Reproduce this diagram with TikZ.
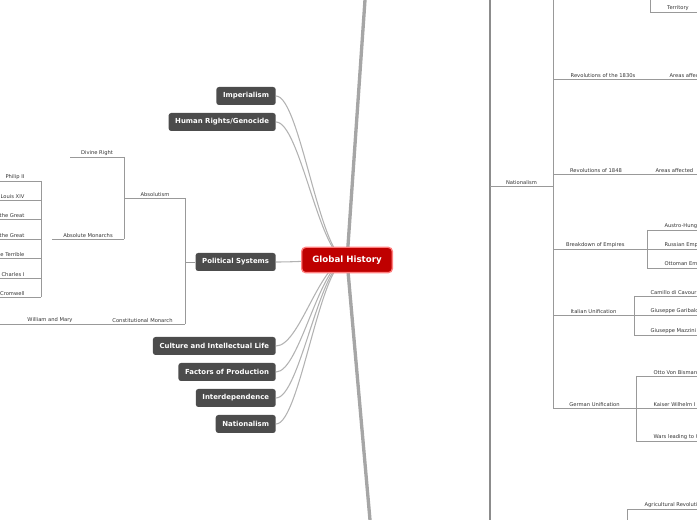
\documentclass[tikz,border=0pt]{standalone}
\usepackage{fontspec}
\setmainfont{DejaVu Sans}
\begin{document}
\begin{tikzpicture}[x=0.75pt,y=-0.75pt,
  topic/.style={fill=black!70,rounded corners=2pt,text=white,font=\fontsize{5.2}{6}\selectfont\bfseries,minimum height=13.5pt,inner xsep=5pt},
  root/.style={fill=red!75!black,rounded corners=3pt,text=white,font=\fontsize{6.5}{8}\selectfont\bfseries,minimum height=19pt,minimum width=68pt,draw=red!50,line width=1pt},
  lbl/.style={font=\fontsize{3.9}{4.5}\selectfont,text=black!80,inner sep=1pt},
  br/.style={draw=black!40,line width=0.5pt},
  link/.style={draw=black!30,line width=0.8pt}]
\useasboundingbox (0,0) rectangle (697,520);
\clip (0,0) rectangle (697,520);
% thick trunks
\coordinate (top) at (365,0); \coordinate (bot) at (370,520);
\coordinate (c) at (347,260);
\draw[black!35,line width=2.5pt] (c) -- (top);
\draw[black!35,line width=2.5pt] (c) -- (bot);
\draw[black!45,line width=1.5pt] (490,0) -- (490,520);
% left topics
\node[topic,anchor=east] (imp) at (276,96) {Imperialism};
\node[topic,anchor=east] (hr) at (276,122) {Human Rights/Genocide};
\node[topic,anchor=east] (ps) at (276,262) {Political Systems};
\node[topic,anchor=east] (cil) at (276,346) {Culture and Intellectual Life};
\node[topic,anchor=east] (fp) at (276,372) {Factors of Production};
\node[topic,anchor=east] (id) at (276,398) {Interdependence};
\node[topic,anchor=east] (nat) at (276,424) {Nationalism};
\foreach \n/\y in {imp/96,hr/122,ps/262,cil/346,fp/372,id/398,nat/424}{
  \draw[link] (c) .. controls (320,260) and (300,\y) .. (\n.east);}
\node[root] (gh) at (347,260) {Global History};
% political systems tree
\draw[br] (ps.west) -- (185,262);
\draw[br] (185,198) -- (185,324);
\draw[br] (185,198) -- (125,198) node[lbl,midway,above] (abs) {Absolutism};
\draw[br] (185,324) -- (100,324) node[lbl,midway,above] (cm) {Constitutional Monarch};
\draw[br] (100,324) -- (0,324) node[lbl,pos=0.5,above] (wm) {William and Mary};
\draw[br] (124,157) -- (124,239);
\draw[br] (124,157) -- (70,157) node[lbl,midway,above] (dr) {Divine Right};
\draw[br] (124,239) -- (52,239) node[lbl,midway,above] (am) {Absolute Monarchs};
\draw[br] (41,181) -- (41,297);
\foreach \t/\y in {Philip II/181,Louis XIV/200,Peter the Great/219,Catherine the Great/239,Ivan the Terrible/258,Charles I/278,Oliver Cromwell/297}{
  \draw[br] (41,\y) -- (0,\y);
  \node[lbl,anchor=south east] at (26,\y) {\t};}
% nationalism tree (right)
\draw[br] (490,186) -- (553,186) node[lbl,midway,above] (natr) {Nationalism};
\draw[br] (553,0) -- (553,408);
\draw[br] (553,79) -- (697,79);
\node[lbl,anchor=south] (r30) at (603,79) {Revolutions of the 1830s};
\node[lbl,anchor=south west] (a30) at (668,79) {Areas affected};
\draw[br] (650,0) -- (650,12) -- (697,12);
\node[lbl,anchor=south] (ter) at (678,12) {Territory};
\draw[br] (553,174) -- (697,174);
\node[lbl,anchor=south] (r48) at (596,174) {Revolutions of 1848};
\node[lbl,anchor=south west] (a48) at (654,174) {Areas affected};
\draw[br] (553,249) -- (647,249) node[lbl,pos=0.45,above] (be) {Breakdown of Empires};
\draw[br] (647,230) -- (647,268);
\foreach \t/\y in {Austro-Hungarian Empire/230,Russian Empire/249,Ottoman Empire/268}{
  \draw[br] (647,\y) -- (697,\y); \node[lbl,anchor=south west] at (663,\y) {\t};}
\draw[br] (553,315) -- (634,315) node[lbl,pos=0.5,above] (iu) {Italian Unification};
\draw[br] (634,296) -- (634,335);
\foreach \t/\y in {Camillo di Cavour/296,Giuseppe Garibaldi/315,Giuseppe Mazzini/335}{
  \draw[br] (634,\y) -- (697,\y); \node[lbl,anchor=south west] at (649,\y) {\t};}
\draw[br] (553,408) -- (636,408) node[lbl,pos=0.5,above] (gu) {German Unification};
\draw[br] (636,376) -- (636,441);
\foreach \t/\y in {Otto Von Bismarck/376,Kaiser Wilhelm I/408,Wars leading to Unification/441}{
  \draw[br] (636,\y) -- (697,\y); \node[lbl,anchor=south west] at (652,\y) {\t};}
\draw[br] (627,520) -- (627,509) -- (697,509);
\node[lbl,anchor=south west] (ar) at (643,509) {Agricultural Revolution};
\end{tikzpicture}
\end{document}
